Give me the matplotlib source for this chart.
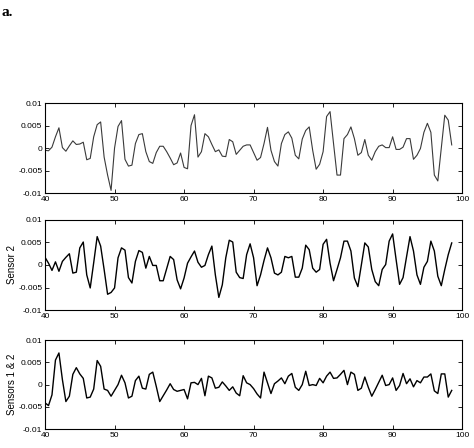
import numpy as np
import matplotlib
matplotlib.use("Agg")
import matplotlib.pyplot as plt


# 时间轴：40 到 98.5，每 0.5 一个点
t = np.arange(40, 99, 0.5)

# 第一路传感器
sensor1 = [
    -0.0005, -0.0006, 0.0002, 0.0025, 0.0045, 0.0001, -0.0007, 0.0005, 0.0016, 0.0008,
    0.0009, 0.0013, -0.0026, -0.0023, 0.0025, 0.0052, 0.0058, -0.002, -0.006, -0.0094,
    0.0, 0.0048, 0.0061, -0.0025, -0.004, -0.0038, 0.001, 0.003, 0.0032, -0.0008,
    -0.003, -0.0034, -0.001, 0.0004, 0.0004, -0.0008, -0.0022, -0.0037, -0.0033, -0.0011,
    -0.0043, -0.0046, 0.005, 0.0074, -0.002, -0.0008, 0.0032, 0.0025, 0.0008, -0.0008,
    -0.0004, -0.0018, -0.0019, 0.0019, 0.0014, -0.0014, -0.0005, 0.0004, 0.0007, 0.0007,
    -0.001, -0.0027, -0.0021, 0.001, 0.0046, -0.0005, -0.003, -0.004, 0.001, 0.003,
    0.0036, 0.0022, -0.0016, -0.0024, 0.002, 0.0039, 0.0047, -0.0005, -0.0047, -0.0036,
    -0.0008, 0.007, 0.0081, 0.001, -0.006, -0.006, 0.0021, 0.003, 0.0047, 0.0021,
    -0.0016, -0.001, 0.0019, -0.0016, -0.0027, -0.0008, 0.0004, 0.0007, 0.0001, 0.0001,
    0.0025, -0.0003, -0.0003, 0.0002, 0.0021, 0.0021, -0.0025, -0.0016, -0.0001, 0.0035,
    0.0055, 0.0035, -0.006, -0.0073, 0.0, 0.0073, 0.0062, 0.0007,
]

# 第二路传感器
sensor2 = [
    0.0017, 0.0004, -0.0012, 0.0007, -0.0014, 0.0008, 0.0017, 0.0025, -0.0018, -0.0016,
    0.0038, 0.0051, -0.0022, -0.0051, 0.0005, 0.0063, 0.0042, -0.001, -0.0065, -0.0061,
    -0.0051, 0.0016, 0.0038, 0.0033, -0.0028, -0.004, 0.0008, 0.0032, 0.0028, -0.0007,
    0.0019, -0.0001, -0.0001, -0.0035, -0.0035, -0.0008, 0.0019, 0.0012, -0.0033, -0.0053,
    -0.0029, 0.0004, 0.0018, 0.0031, 0.0006, -0.0005, -0.0001, 0.0023, 0.0042, -0.0022,
    -0.0072, -0.0044, 0.0016, 0.0055, 0.0051, -0.0016, -0.0028, -0.003, 0.0023, 0.0047,
    0.0016, -0.0046, -0.0022, 0.001, 0.0038, 0.0016, -0.0018, -0.0022, -0.0016, 0.0019,
    0.0016, 0.0019, -0.0027, -0.0027, -0.0007, 0.0044, 0.0034, -0.0007, -0.0016, -0.001,
    0.0046, 0.0057, 0.0004, -0.0035, -0.001, 0.0016, 0.0053, 0.0053, 0.0031, -0.0029,
    -0.0048, 0.0, 0.0049, 0.004, -0.001, -0.0037, -0.0046, -0.001, 0.0001, 0.0053,
    0.0069, 0.0012, -0.0043, -0.0028, 0.0018, 0.0063, 0.0031, -0.0022, -0.0043, -0.0005,
    0.0008, 0.0053, 0.0031, -0.0025, -0.0046, -0.001, 0.0023, 0.0049,
]

# 两路合成
sensor12 = [
    -0.0041, -0.0047, -0.0023, 0.0055, 0.0071, 0.0011, -0.0038, -0.0026, 0.0023, 0.0038,
    0.0024, 0.0014, -0.003, -0.0028, -0.001, 0.0054, 0.0041, -0.001, -0.0013, -0.0026,
    -0.0013, 0.0, 0.0021, 0.0004, -0.003, -0.0026, 0.0009, 0.0019, -0.0008, -0.001,
    0.0023, 0.0028, -0.0004, -0.0038, -0.0025, -0.0012, 0.0002, -0.0011, -0.0015, -0.0013,
    -0.0011, -0.0032, 0.0004, 0.0005, 0.0, 0.0014, -0.0025, 0.0019, 0.0015, -0.0008,
    -0.0006, 0.0006, -0.0003, -0.0013, -0.0005, -0.0019, -0.0025, 0.002, 0.0004, 0.0,
    -0.0009, -0.0021, -0.003, 0.0028, 0.0004, -0.002, 0.0002, 0.0008, 0.0015, 0.0002,
    0.0019, 0.0025, -0.0006, -0.0013, 0.0, 0.003, -0.0002, 0.0, -0.0002, 0.0014,
    0.0004, 0.0019, 0.0028, 0.0014, 0.0015, 0.0023, 0.0032, 0.0, 0.0028, 0.0023,
    -0.0013, -0.0008, 0.0017, -0.0006, -0.0026, -0.0011, 0.0005, 0.0021, -0.0002, 0.0,
    0.0015, -0.0013, -0.0002, 0.0025, 0.0002, 0.0013, -0.0005, 0.0009, 0.0004, 0.0017,
    0.0017, 0.0024, -0.0014, -0.002, 0.0024, 0.0024, -0.0028, -0.0013,
]

xticks = [40, 50, 60, 70, 80, 90, 100]
yticks = [-0.01, -0.005, 0, 0.005, 0.01]
ytick_labels = ["-0.01", "-0.005", "0", "0.005", "0.01"]

plt.rcParams['font.family'] = ['Liberation Sans', 'DejaVu Sans']


def draw_panel(fig, rect, y, ylabel, color, lw):
    ax = fig.add_axes(rect)
    ax.plot(t, y, color=color, linewidth=lw)
    ax.set_xlim(40, 100)
    ax.set_ylim(-0.01, 0.01)
    ax.set_xticks(xticks)
    ax.set_yticks(yticks)
    ax.set_yticklabels(ytick_labels)
    ax.tick_params(direction='in', top=True, right=True, labelsize=6,
                   length=3, width=0.6, pad=2)
    for s in ax.spines.values():
        s.set_linewidth(0.8)
    if ylabel:
        ax.set_ylabel(ylabel, fontsize=7, labelpad=1)
    return ax


fig = plt.figure(figsize=(4.74, 4.48), dpi=100)

draw_panel(fig, [0.095, 0.569, 0.880, 0.201], sensor1, "", "#3a3a3a", 0.8)
draw_panel(fig, [0.095, 0.308, 0.880, 0.201], sensor2, "Sensor 2", "black", 1.0)
draw_panel(fig, [0.095, 0.042, 0.880, 0.199], sensor12, "Sensors 1 & 2", "black", 1.0)

# 左上角的小标题
fig.text(0.004, 0.972, "a.", fontsize=11, fontweight='bold',
         family='Liberation Serif', va='center', ha='left')

fig.savefig("out.png", dpi=100)
